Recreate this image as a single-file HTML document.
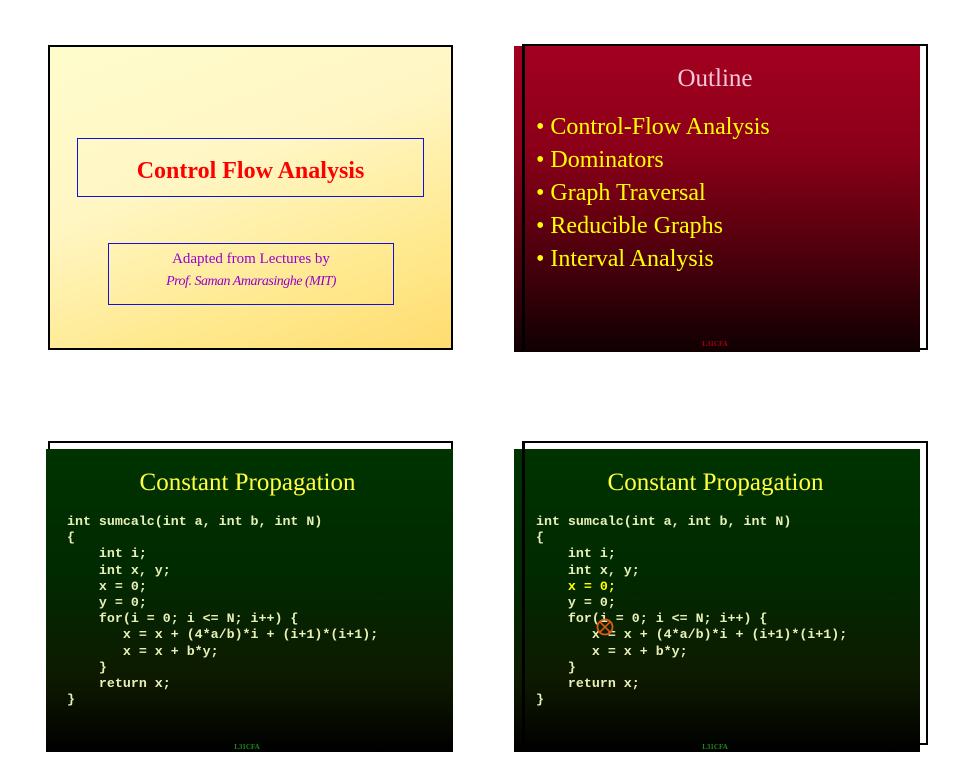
<!DOCTYPE html>
<html><head><meta charset="utf-8"><style>
html,body{margin:0;padding:0;background:#fff;width:974px;height:783px;overflow:hidden;position:relative}
div{position:absolute;box-sizing:border-box}
.frame{border:2px solid #000}
.serif{font-family:"Liberation Serif",serif}
.code{font-family:"Liberation Mono",monospace;font-weight:bold;font-size:13.3px;line-height:16.2px;color:#e8f0b8;white-space:pre}
.title{font-family:"Liberation Serif",serif;font-size:25px;color:#ffff40;text-align:center;white-space:nowrap}
.foot{font-family:"Liberation Serif",serif;font-size:7px;font-weight:bold;text-align:center;width:60px}
.ol{font-family:"Liberation Serif",serif;font-size:24px;color:#ffff00;line-height:33px;white-space:pre}
</style></head><body>

<!-- Slide 1 -->
<div style="left:48px;top:45px;width:405px;height:305px;background:linear-gradient(160deg,#fffccc 0%,#fff6c4 40%,#ffe98e 75%,#ffdc70 100%)" class="frame"></div>
<div style="left:77px;top:138px;width:347px;height:59px;border:1px solid #1010e0"></div>
<div class="serif" style="left:77px;top:158px;width:347px;text-align:center;font-size:24px;font-weight:bold;color:#ff0000">Control Flow Analysis</div>
<div style="left:108px;top:243px;width:286px;height:62px;border:1px solid #1010e0"></div>
<div class="serif" style="left:108px;top:251px;width:286px;text-align:center;font-size:15px;color:#9900cc">Adapted from Lectures by</div>
<div class="serif" style="left:108px;top:274px;width:286px;text-align:center;font-size:14px;font-style:italic;color:#9900cc;letter-spacing:-0.5px">Prof. Saman Amarasinghe (MIT)</div>

<!-- Slide 2 -->
<div class="frame" style="left:522px;top:44px;width:406px;height:306px"></div>
<div style="left:514px;top:46px;width:406px;height:306px;background:linear-gradient(180deg,#a30020 0%,#8a0018 35%,#4a000c 70%,#100002 100%)"></div>
<div style="left:522px;top:44px;width:3px;height:306px;background:#000"></div>
<div class="serif" style="left:514px;top:65px;width:402px;text-align:center;font-size:25px;color:#f4c8d8">Outline</div>
<div class="ol" style="left:536px;top:111px">• Control-Flow Analysis
• Dominators
• Graph Traversal
• Reducible Graphs
• Interval Analysis</div>
<div class="foot" style="left:685px;top:340px;color:#a00010">L31CFA</div>

<!-- Slide 3 -->
<div class="frame" style="left:48px;top:441px;width:405px;height:306px"></div>
<div style="left:46px;top:449px;width:407px;height:303px;background:linear-gradient(180deg,#003300 0%,#002a00 40%,#0e1a00 75%,#000000 100%)"></div>
<div class="title" style="left:46px;top:469px;width:403px">Constant Propagation</div>
<div class="code" style="left:67px;top:514px">int sumcalc(int a, int b, int N)
{
    int i;
    int x, y;
    x = 0;
    y = 0;
    for(i = 0; i &lt;= N; i++) {
       x = x + (4*a/b)*i + (i+1)*(i+1);
       x = x + b*y;
    }
    return x;
}</div>
<div class="foot" style="left:217px;top:743px;color:#1a8a1a">L31CFA</div>

<!-- Slide 4 -->
<div class="frame" style="left:522px;top:441px;width:406px;height:304px"></div>
<div style="left:514px;top:449px;width:406px;height:303px;background:linear-gradient(180deg,#003300 0%,#002a00 40%,#0e1a00 75%,#000000 100%)"></div>
<div style="left:522px;top:441px;width:3px;height:304px;background:#000"></div>
<div class="title" style="left:514px;top:469px;width:403px">Constant Propagation</div>
<div class="code" style="left:536px;top:514px">int sumcalc(int a, int b, int N)
{
    int i;
    int x, y;
    <span style="color:#ffff00">x = 0;</span>
    y = 0;
    for(i = 0; i &lt;= N; i++) {
       x = x + (4*a/b)*i + (i+1)*(i+1);
       x = x + b*y;
    }
    return x;
}</div>
<svg style="position:absolute;left:595px;top:617px" width="20" height="20"><circle cx="10" cy="10" r="7.5" fill="none" stroke="#e05a10" stroke-width="1.8"/><line x1="4.7" y1="4.7" x2="15.3" y2="15.3" stroke="#e05a10" stroke-width="1.6"/><line x1="15.3" y1="4.7" x2="4.7" y2="15.3" stroke="#e05a10" stroke-width="1.6"/></svg>
<div class="foot" style="left:685px;top:743px;color:#1a8a1a">L31CFA</div>
</body></html>
